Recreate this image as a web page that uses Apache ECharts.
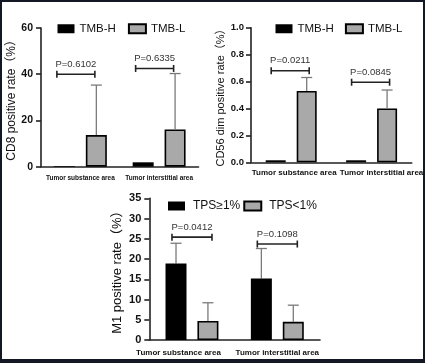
<!DOCTYPE html>
<html>
<head>
<meta charset="utf-8">
<script src="https://cdn.jsdelivr.net/npm/echarts@6/dist/echarts.min.js"></script>
<style>
  html, body { margin: 0; padding: 0; background: #fff; }
  #wrap { position: relative; width: 425px; height: 363px; }
  #chart { position: absolute; left: 0; top: 0; width: 425px; height: 363px; }
  #frame { position: absolute; left: 0; top: 0; width: 425px; height: 363px; box-sizing: border-box;
           border-style: solid; border-color: #141824; border-width: 2px 2px 4px 2px; pointer-events: none; }
</style>
</head>
<body>
<div id="wrap"><div id="chart"></div><div id="frame"></div></div>
<script>
// ---------- data ----------
const categories = ['Tumor substance area', 'Tumor interstitial area'];

const cd8High = [0.3, 1.9];
const cd8Low = [13.7, 16.1];
const cd8LowErr = [35.3, 40.3];
const cd8PLabels = ['P=0.6102', 'P=0.6335'];
const cd8PLevels = [40, 42.5];

const cd56High = [0.015, 0.015];
const cd56Low = [0.53, 0.40];
const cd56LowErr = [0.63, 0.537];
const cd56PLabels = ['P=0.0211', 'P=0.0845'];
const cd56PLevels = [0.68, 0.595];

const m1High = [18.9, 15.2];
const m1HighErr = [23.9, 22.6];
const m1Low = [4.7, 4.5];
const m1LowErr = [9.2, 8.6];
const m1PLabels = ['P=0.0412', 'P=0.1098'];
const m1PLevels = [25.4, 23.7];

const legend12 = ['TMB-H', 'TMB-L'];
const legend3 = ['TPS≥1%', 'TPS<1%'];

// ---------- style ----------
const FONT = 'Arial, "Liberation Sans", "Noto Sans CJK SC", sans-serif';
const BAR_W = 21;
const BAR_GAP = '52%';
const OFFSET = (BAR_W + BAR_W * 0.52) / 2;
const GRAY = '#a9a9a9';
const AXW = 1.6;

const chart = echarts.init(document.getElementById('chart'));

function errItem(offset) {
  return function (params, api) {
    const i = api.value(0);
    const base = api.coord([i, api.value(1)]);
    const top = api.coord([i, api.value(2)]);
    const x = base[0] + offset;
    const st = { stroke: '#7a7a7a', lineWidth: 1.3 };
    return { type: 'group', children: [
      { type: 'line', shape: { x1: x, y1: base[1], x2: x, y2: top[1] }, style: st },
      { type: 'line', shape: { x1: x - 5.5, y1: top[1], x2: x + 5.5, y2: top[1] }, style: st }
    ]};
  };
}

function bracketItem(labels, shift, half) {
  return function (params, api) {
    const i = api.value(0);
    const p = api.coord([i, api.value(1)]);
    const cx = p[0] + shift, y = p[1];
    const st = { stroke: '#222', lineWidth: 1.6 };
    return { type: 'group', children: [
      { type: 'line', shape: { x1: cx - half, y1: y, x2: cx + half, y2: y }, style: st },
      { type: 'line', shape: { x1: cx - half, y1: y - 3.5, x2: cx - half, y2: y + 3.5 }, style: st },
      { type: 'line', shape: { x1: cx + half, y1: y - 3.5, x2: cx + half, y2: y + 3.5 }, style: st },
      { type: 'text', style: { text: labels[params.dataIndex], x: cx, y: y - 10, align: 'center',
        verticalAlign: 'middle', font: '9.5px ' + FONT, fill: '#333' } }
    ]};
  };
}

function triples(means, errs) { return categories.map((c, i) => [i, means[i], errs[i]]); }
function pairs(levels) { return categories.map((c, i) => [i, levels[i]]); }

function xAxisCfg(gi, fs, margin, formatter, rich) {
  return {
    type: 'category', gridIndex: gi, data: categories,
    axisLine: { lineStyle: { color: '#222', width: AXW } },
    axisTick: { alignWithLabel: true, length: 5, lineStyle: { color: '#222', width: AXW } },
    axisLabel: { interval: 0, fontSize: fs, fontWeight: 'bold', color: '#111', fontFamily: FONT,
                 margin: margin, formatter: formatter, rich: rich }
  };
}
function yAxisCfg(gi, max, interval, name, nameFs, nameGap, labelFs, margin, dec) {
  return {
    type: 'value', gridIndex: gi, min: 0, max: max, interval: interval,
    name: name, nameLocation: 'middle', nameGap: nameGap,
    nameTextStyle: { fontSize: nameFs, color: '#111', fontFamily: FONT },
    axisLine: { show: true, lineStyle: { color: '#222', width: AXW } },
    axisTick: { show: true, length: 5, lineStyle: { color: '#222', width: AXW } },
    splitLine: { show: false },
    axisLabel: { fontSize: labelFs, fontWeight: 'bold', color: '#111', fontFamily: FONT, margin: margin,
                 formatter: v => dec ? v.toFixed(dec) : String(v) }
  };
}

const option = {
  backgroundColor: '#fff',
  animation: false,
  textStyle: { fontFamily: FONT },
  grid: [
    { left: 41, top: 28, width: 157.5, height: 138.7 },
    { left: 251, top: 27.7, width: 166, height: 134.6 },
    { left: 149.3, top: 198.3, width: 170.7, height: 141.7 }
  ],
  legend: [
    { data: legend12, left: 52.5, top: 18, itemWidth: 17, itemHeight: 9, itemGap: 12,
      textStyle: { fontSize: 11.5, color: '#111' }, icon: 'rect', selectedMode: false },
    { data: legend12, left: 270.5, top: 18, itemWidth: 17, itemHeight: 9, itemGap: 11,
      textStyle: { fontSize: 11.5, color: '#111' }, icon: 'rect', selectedMode: false },
    { data: legend3, left: 163, top: 195, itemWidth: 17, itemHeight: 9, itemGap: 3,
      textStyle: { fontSize: 12, color: '#111', padding: [0, 0, 0, 3] }, icon: 'rect', selectedMode: false }
  ],
  xAxis: [
    xAxisCfg(0, 6.5, 8),
    xAxisCfg(1, 8, 6.5, (v, i) => i === 1 ? '{b|' + v + '}' : '{a|' + v + '}',
      { a: { fontSize: 8, fontWeight: 'bold', color: '#111', padding: [0, 0, 0, 6] },
        b: { fontSize: 8, fontWeight: 'bold', color: '#111', padding: [0, 0, 0, 20] } }),
    xAxisCfg(2, 8, 8.5, (v, i) => i === 0 ? '{a|' + v + '}' : '{b|' + v + '}',
      { a: { fontSize: 8, fontWeight: 'bold', color: '#111', padding: [0, 27, 0, 0] },
        b: { fontSize: 8, fontWeight: 'bold', color: '#111' } })
  ],
  yAxis: [
    yAxisCfg(0, 60, 20, 'CD8 positive rate（%）', 12, 22, 10.5, 8, 0),
    yAxisCfg(1, 1, 0.2, 'CD56 dim positive rate（%）', 11, 22, 9.5, 7, 1),
    yAxisCfg(2, 35, 5, 'M1 positive rate（%）', 13, 25, 11, 8, 0)
  ],
  series: [
    // chart 1
    { name: 'TMB-H', type: 'bar', xAxisIndex: 0, yAxisIndex: 0, data: cd8High, barWidth: BAR_W, barGap: BAR_GAP,
      itemStyle: { color: '#000' } },
    { name: 'TMB-L', type: 'bar', xAxisIndex: 0, yAxisIndex: 0, data: cd8Low, barWidth: BAR_W, barGap: BAR_GAP,
      itemStyle: { color: GRAY, borderColor: '#000', borderWidth: 1.6 } },
    { name: 'e1', type: 'custom', xAxisIndex: 0, yAxisIndex: 0, z: 3, renderItem: errItem(OFFSET),
      data: triples(cd8Low, cd8LowErr) },
    { name: 'p1', type: 'custom', xAxisIndex: 0, yAxisIndex: 0, z: 3, renderItem: bracketItem(cd8PLabels, -4.5, 19),
      data: pairs(cd8PLevels) },
    // chart 2
    { name: 'TMB-H', type: 'bar', xAxisIndex: 1, yAxisIndex: 1, data: cd56High, barWidth: 20, barGap: '55%',
      itemStyle: { color: '#000' } },
    { name: 'TMB-L', type: 'bar', xAxisIndex: 1, yAxisIndex: 1, data: cd56Low, barWidth: 20, barGap: '55%',
      itemStyle: { color: GRAY, borderColor: '#000', borderWidth: 1.6 } },
    { name: 'e2', type: 'custom', xAxisIndex: 1, yAxisIndex: 1, z: 3, renderItem: errItem(15.5),
      data: triples(cd56Low, cd56LowErr) },
    { name: 'p2', type: 'custom', xAxisIndex: 1, yAxisIndex: 1, z: 3, renderItem: bracketItem(cd56PLabels, -1, 19),
      data: pairs(cd56PLevels) },
    // chart 3
    { name: 'TPS≥1%', type: 'bar', xAxisIndex: 2, yAxisIndex: 2, data: m1High, barWidth: BAR_W, barGap: BAR_GAP,
      itemStyle: { color: '#000' } },
    { name: 'TPS<1%', type: 'bar', xAxisIndex: 2, yAxisIndex: 2, data: m1Low, barWidth: BAR_W, barGap: BAR_GAP,
      itemStyle: { color: GRAY, borderColor: '#000', borderWidth: 1.6 } },
    { name: 'e3a', type: 'custom', xAxisIndex: 2, yAxisIndex: 2, z: 1, renderItem: errItem(-OFFSET),
      data: triples(m1High, m1HighErr) },
    { name: 'e3b', type: 'custom', xAxisIndex: 2, yAxisIndex: 2, z: 1, renderItem: errItem(OFFSET),
      data: triples(m1Low, m1LowErr) },
    { name: 'p3', type: 'custom', xAxisIndex: 2, yAxisIndex: 2, z: 3, renderItem: bracketItem(m1PLabels, 0, 20),
      data: pairs(m1PLevels) }
  ]
};
chart.setOption(option);
</script>
</body>
</html>
